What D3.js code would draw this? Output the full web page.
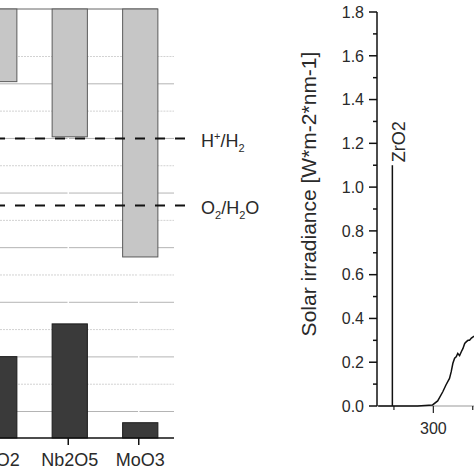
<!DOCTYPE html>
<html><head><meta charset="utf-8">
<script src="https://cdn.jsdelivr.net/npm/d3@7"></script>
<style>
body{margin:0;background:#fff}
text{font-family:Arial,"Liberation Sans",sans-serif;fill:#2a2a2a}
</style>
</head><body>
<svg id="c" width="474" height="474" xmlns="http://www.w3.org/2000/svg"></svg>
<script>
// ---------- data ----------
const categories = ["ZrO2", "Nb2O5", "MoO3"];
const bandEdge = [-1.04, -0.03, 2.17];      // grey bars hanging from top (eV vs NHE)
const barValue = [1.49, 2.09, 0.28];        // dark bars from bottom baseline
const gridMajor = [-1, 0, 1, 2, 3, 4, 5];
const gridMinor = [-1.5, -0.5, 0.5, 1.5, 2.5, 3.5, 4.5];
const redoxPotential = [0, 1.23];
const redoxLabels = [
  [["H",""],["+","sup"],["/H",""],["2","sub"]],
  [["O",""],["2","sub"],["/H",""],["2","sub"],["O",""]]
];

const wavelength = [230, 280, 299, 305.5, 312, 316, 320.5, 322.7, 324.8, 327, 329, 331, 333.3, 335.5, 337.6, 339.8, 342, 344, 346, 348.3, 350.4, 353];
const irradiance = [0, 0, 0.005, 0.023, 0.065, 0.096, 0.126, 0.157, 0.195, 0.218, 0.225, 0.24, 0.23, 0.248, 0.263, 0.286, 0.294, 0.30, 0.30, 0.31, 0.316, 0.32];
const edgeLabel = "ZrO2";
const edgeWavelength = 248;
const edgeHeight = 1.1;
const yTicksMajor = [0, 0.2, 0.4, 0.6, 0.8, 1.0, 1.2, 1.4, 1.6, 1.8];
const yTicksMinor = [0.1, 0.3, 0.5, 0.7, 0.9, 1.1, 1.3, 1.5, 1.7];
const xTicksMajor = [300];
const xTicksMinor = [250, 350];
const yTitle = "Solar irradiance [W*m-2*nm-1]";

// ---------- left chart ----------
const svg = d3.select("#c");
svg.append("rect").attr("width",474).attr("height",474).attr("fill","#fff");

const xCat = d3.scalePoint().domain(categories).range([-0.75, 140.25]);
const barW = xCat.step() * 0.5;
const yE = d3.scaleLinear().domain([-2.37, 5.485]).range([9, 438]);
const yB = d3.scaleLinear().domain([0, 1]).range([438, 438 - 54.6]);
const gridEnd = 174;

const L = svg.append("g");
// gridline segments with small breaks at category ticks
const breaks = categories.slice(1).map(c => xCat(c) - 1.5);
const segs = [];
let s0 = 0;
breaks.forEach(b => { segs.push([s0, b - 0.7]); s0 = b + 0.7; });
segs.push([s0, gridEnd]);

function drawGrid(vals, stroke, dash) {
  vals.forEach(v => {
    segs.forEach(sg => {
      L.append("line").attr("x1", sg[0]).attr("x2", sg[1])
        .attr("y1", yE(v)).attr("y2", yE(v))
        .attr("stroke", stroke).attr("stroke-width", 1)
        .attr("stroke-dasharray", dash);
    });
  });
}
drawGrid(gridMinor, "#d2d2d2", "2,1");
drawGrid(gridMajor, "#b4b4b4", null);

// top frame line
L.append("line").attr("x1", 0).attr("x2", xCat("MoO3") + barW/2)
  .attr("y1", yE(-2.37)).attr("y2", yE(-2.37))
  .attr("stroke", "#666").attr("stroke-width", 1);

// grey bars hanging from the top
L.selectAll("rect.top").data(categories).join("rect")
  .attr("x", c => xCat(c) - barW/2)
  .attr("width", barW)
  .attr("y", yE(-2.37))
  .attr("height", (c, i) => yE(bandEdge[i]) - yE(-2.37))
  .attr("fill", "#c6c6c6").attr("stroke", "#5a5a5a").attr("stroke-width", 1);

// dark bars from bottom
L.selectAll("rect.bot").data(categories).join("rect")
  .attr("x", c => xCat(c) - barW/2)
  .attr("width", barW)
  .attr("y", (c, i) => yB(barValue[i]))
  .attr("height", (c, i) => yB(0) - yB(barValue[i]))
  .attr("fill", "#3a3a3a").attr("stroke", "#1c1c1c").attr("stroke-width", 1);

// redox dashed lines + labels
redoxPotential.forEach((v, i) => {
  L.append("line").attr("x1", -5).attr("x2", 185)
    .attr("y1", yE(v)).attr("y2", yE(v))
    .attr("stroke", "#111").attr("stroke-width", 2)
    .attr("stroke-dasharray", "10,10");
  const t = L.append("text").attr("x", 201).attr("y", yE(v) + 8.5)
    .attr("font-size", 18);
  let cur = 0;
  redoxLabels[i].forEach(p => {
    let target = p[1] === "sup" ? -7 : p[1] === "sub" ? 5 : 0;
    const ts = t.append("tspan").text(p[0]).attr("dy", target - cur);
    if (p[1]) ts.attr("font-size", 11);
    cur = target;
  });
});

// bottom axis
const xAx = L.append("g").attr("transform", "translate(0,438)");
xAx.append("line").attr("x1", 0).attr("x2", gridEnd).attr("stroke", "#111").attr("stroke-width", 1.5);
categories.forEach(c => {
  xAx.append("line").attr("x1", xCat(c) - 1.5).attr("x2", xCat(c) - 1.5)
    .attr("y1", 0).attr("y2", 7).attr("stroke", "#111").attr("stroke-width", 1.5);
  xAx.append("text").attr("x", xCat(c)).attr("y", 28)
    .attr("text-anchor", "middle").attr("font-size", 18).text(c);
});

// ---------- right chart ----------
const xW = d3.scaleLinear().domain([228.5, 351.6]).range([377, 474]);
const yI = d3.scaleLinear().domain([0, 1.8]).range([406, 12]);
const R = svg.append("g");

// x axis
R.append("line").attr("x1", 377).attr("x2", 474).attr("y1", yI(0)).attr("y2", yI(0))
  .attr("stroke", "#999").attr("stroke-width", 1);
xTicksMajor.forEach(t => {
  R.append("line").attr("x1", xW(t)).attr("x2", xW(t)).attr("y1", yI(0)).attr("y2", yI(0) + 7)
    .attr("stroke", "#222").attr("stroke-width", 1.2);
  R.append("text").attr("x", xW(t)).attr("y", 433.5).attr("text-anchor", "middle")
    .attr("font-size", 16).text(t);
});
xTicksMinor.forEach(t => {
  R.append("line").attr("x1", xW(t)).attr("x2", xW(t)).attr("y1", yI(0)).attr("y2", yI(0) + 4)
    .attr("stroke", "#222").attr("stroke-width", 1.2);
});

// spectrum line
const line = d3.line().x((d, i) => xW(wavelength[i])).y(d => yI(d));
R.append("path").datum(irradiance).attr("d", line)
  .attr("fill", "none").attr("stroke", "#111").attr("stroke-width", 1.5);

// band-edge marker
R.append("line").attr("x1", xW(edgeWavelength)).attr("x2", xW(edgeWavelength))
  .attr("y1", yI(0)).attr("y2", yI(edgeHeight))
  .attr("stroke", "#111").attr("stroke-width", 1.5);
R.append("text").attr("transform", `translate(${xW(edgeWavelength) + 13},${yI(edgeHeight) - 3}) rotate(-90)`)
  .attr("font-size", 18).text(edgeLabel);

// y axis
R.append("line").attr("x1", 377).attr("x2", 377).attr("y1", yI(1.8)).attr("y2", yI(0))
  .attr("stroke", "#111").attr("stroke-width", 1.5);
yTicksMajor.forEach(t => {
  R.append("line").attr("x1", 369).attr("x2", 377).attr("y1", yI(t)).attr("y2", yI(t))
    .attr("stroke", "#111").attr("stroke-width", 1.5);
  R.append("text").attr("x", 364).attr("y", yI(t)).attr("dy", "0.36em")
    .attr("text-anchor", "end").attr("font-size", 16).text(d3.format(".1f")(t));
});
yTicksMinor.forEach(t => {
  R.append("line").attr("x1", 373).attr("x2", 377).attr("y1", yI(t)).attr("y2", yI(t))
    .attr("stroke", "#111").attr("stroke-width", 1.5);
});
R.append("text").attr("transform", "translate(316,194) rotate(-90)")
  .attr("text-anchor", "middle").attr("font-size", 21).text(yTitle);
</script>
</body></html>
